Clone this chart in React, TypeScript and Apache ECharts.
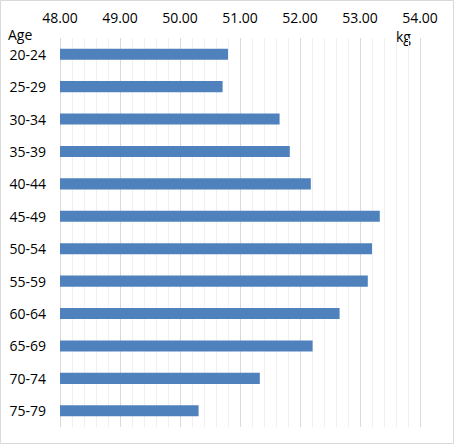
import * as echarts from "echarts";
import { useEffect, useRef } from "react";

const ageGroups = [
  "20-24", "25-29", "30-34", "35-39", "40-44", "45-49",
  "50-54", "55-59", "60-64", "65-69", "70-74", "75-79",
];
const weights = [
  50.8, 50.71, 51.66, 51.83, 52.18, 53.33,
  53.2, 53.13, 52.66, 52.21, 51.33, 50.31,
];
const axisMin = 48;
const axisMax = 54;

const font = "'Open Sans', sans-serif";

export default function App() {
  const chartRef = useRef<HTMLDivElement>(null);

  useEffect(() => {
    if (!chartRef.current) return;
    const chart = echarts.init(chartRef.current, null, { renderer: "svg" });

    const option: echarts.EChartsOption = {
      animation: false,
      backgroundColor: "#fff",
      grid: { left: 60, right: 34, top: 38, bottom: 17 },
      xAxis: {
        type: "value",
        position: "top",
        min: axisMin,
        max: axisMax,
        interval: 1,
        axisLine: { show: false },
        axisTick: { show: false },
        axisLabel: {
          margin: 14,
          color: "#000",
          fontFamily: font,
          fontSize: 14,
          formatter: (v: number) => v.toFixed(2),
        },
        splitLine: { lineStyle: { color: "#d9d9d9", width: 1 } },
        minorTick: { show: false, splitNumber: 5 },
        minorSplitLine: { show: true, lineStyle: { color: "#f0f0f0", width: 1 } },
      },
      yAxis: {
        type: "category",
        inverse: true,
        data: ageGroups,
        axisLine: { show: false },
        axisTick: { show: false },
        axisLabel: {
          margin: 14,
          color: "#000",
          fontFamily: font,
          fontSize: 14,
        },
      },
      series: [
        {
          type: "bar",
          data: weights,
          barWidth: "34%",
          itemStyle: { color: "#4f81bd" },
        },
      ],
      graphic: [
        {
          type: "rect",
          shape: { x: 0.5, y: 0.5, width: 453, height: 443 },
          style: { fill: "none", stroke: "#d9d9d9", lineWidth: 1 },
          silent: true,
        },
        {
          type: "text",
          left: 8,
          top: 27,
          style: { text: "Age", fill: "#000", font: `14px ${font}` },
        },
        {
          type: "text",
          left: 396,
          top: 29,
          style: { text: "kg", fill: "#000", font: `14px ${font}` },
        },
      ],
    };

    chart.setOption(option);
    return () => chart.dispose();
  }, []);

  return (
    <div
      ref={chartRef}
      style={{ position: "absolute", left: 0, top: 0, width: 454, height: 444 }}
    />
  );
}
